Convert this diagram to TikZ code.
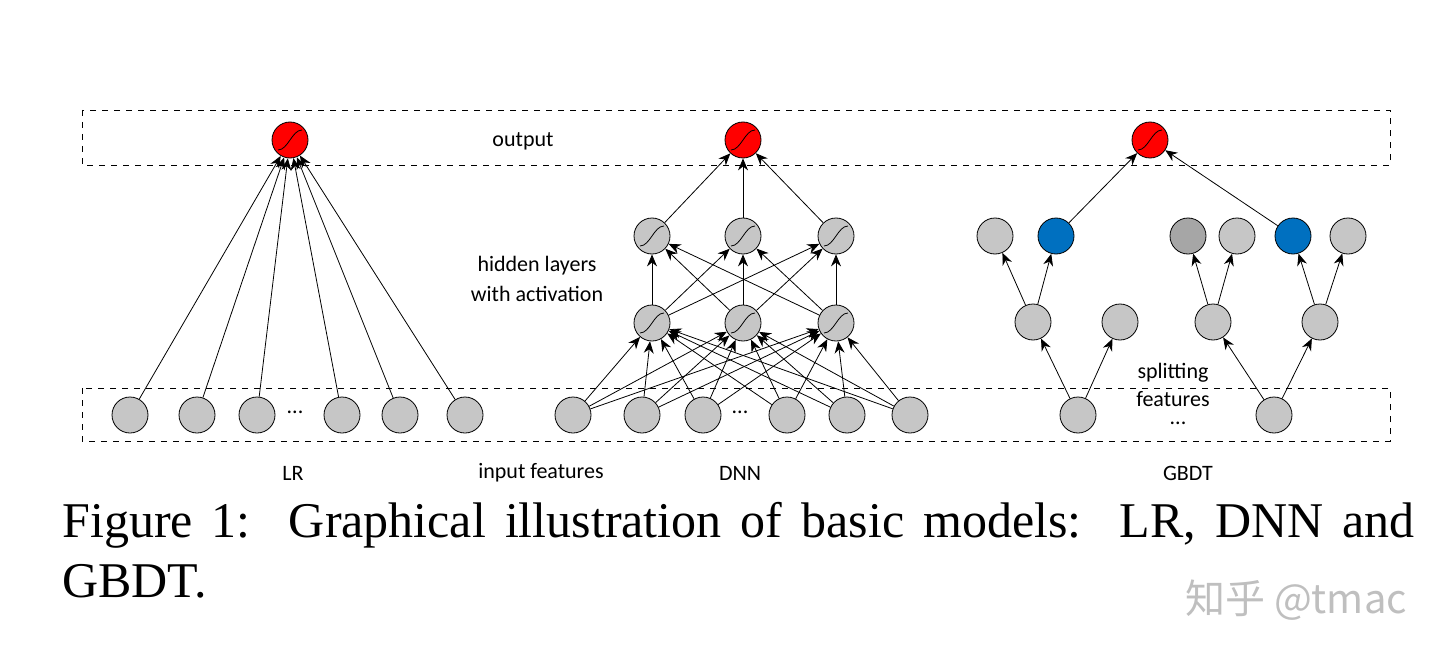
\documentclass[tikz,border=0pt]{standalone}
\usepackage{fontspec}
\setmainfont{Liberation Serif}
\newfontfamily\lab{Carlito}
\newfontfamily\cjk{Noto Sans CJK SC}
\usetikzlibrary{arrows.meta}
\begin{document}
\begin{tikzpicture}[x=0.5pt,y=-0.5pt,
  nd/.style={circle,draw,fill=gray!45,minimum size=18pt,inner sep=0pt},
  red/.style={nd,fill=red},
  blu/.style={nd,fill={rgb,255:red,0;green,112;blue,192}},
  dk/.style={nd,fill=gray!70},
  ar/.style={-{Stealth[length=6pt,width=5pt]},thin},
  lb/.style={font=\lab\fontsize{11}{12}\selectfont},
  box/.style={draw,dashed,thin}]
\useasboundingbox (0,0) rectangle (1456,658);
\newcommand{\act}[1]{\draw (#1)++(-12,10) .. controls ++(10,0) and ++(-10,0) .. ++(24,-20);}
\draw[box] (82,110) rectangle (1390,165);
\draw[box] (82,388) rectangle (1390,441);
% LR
\node[red] (lo) at (290,140) {}; \act{lo}
\foreach \x[count=\i] in {130,197,257,342,400,465}{\node[nd] (l\i) at (\x,415) {}; \draw[ar] (l\i) -- (lo);}
\node[lb] at (295,412) {...};
% DNN
\node[red] (do) at (743,140) {}; \act{do}
\foreach \x[count=\i] in {652,743,836}{\node[nd] (h\i) at (\x,236) {}; \act{h\i} \node[nd] (g\i) at (\x,323) {}; \act{g\i} \draw[ar] (h\i) -- (do);}
\foreach \x[count=\i] in {573,642,703,787,847,910}{\node[nd] (d\i) at (\x,415) {};
  \foreach \j in {1,2,3}{\draw[ar] (d\i) -- (g\j);}}
\foreach \i in {1,2,3}{\foreach \j in {1,2,3}{\draw[ar] (g\i) -- (h\j);}}
\node[lb] at (740,412) {...};
% GBDT
\node[red] (go) at (1150,140) {}; \act{go}
\node[nd] (r1) at (1078,415) {}; \node[nd] (r2) at (1274,415) {};
\node[nd] (a1) at (1033,322) {}; \node[nd] (a2) at (1120,322) {};
\node[nd] (a3) at (1213,322) {}; \node[nd] (a4) at (1320,322) {};
\node[nd] (b1) at (995,236) {}; \node[blu] (b2) at (1056,236) {};
\node[dk] (b3) at (1188,236) {}; \node[nd] (b4) at (1237,236) {};
\node[blu] (b5) at (1293,236) {}; \node[nd] (b6) at (1348,236) {};
\foreach \p/\c in {r1/a1,r1/a2,r2/a3,r2/a4,a1/b1,a1/b2,a3/b3,a3/b4,a4/b5,a4/b6,b2/go,b5/go}{\draw[ar] (\p) -- (\c);}
% labels
\node[lb] at (523,141) {output};
\node[lb] at (537,266) {hidden layers};
\node[lb] at (537,294) {with activation};
\node[lb] at (1173,373) {splitting};
\node[lb] at (1173,399) {features};
\node[lb,inner sep=0pt] at (1178,423) {...};
\node[lb] at (293,473) {LR};
\node[lb] at (541,473) {input features};
\node[lb] at (740,473) {DNN};
\node[lb] at (1188,473) {GBDT};
\node[anchor=north west,inner sep=0pt,text width=676pt,align=justify,font=\fontsize{25}{30}\selectfont] at (62,502)
 {Figure 1:\ \ Graphical illustration of basic models:\ \ LR, DNN and GBDT.};
\node[text=gray!50,font=\cjk\fontsize{20}{22}\selectfont] at (1296,600) {知乎 @tmac};
\end{tikzpicture}
\end{document}
